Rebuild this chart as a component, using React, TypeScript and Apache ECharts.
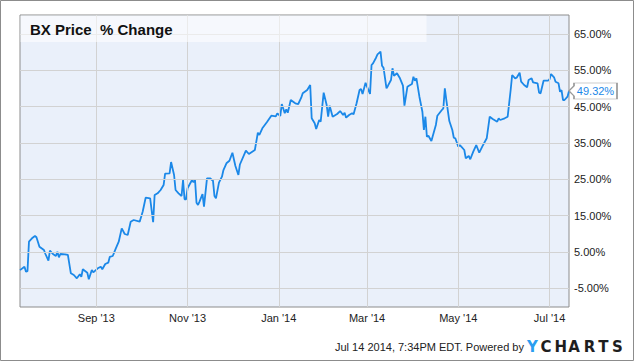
import React, { useEffect, useRef } from "react";
import * as echarts from "echarts";

const dates = [
  "2013-07-12","2013-07-15","2013-07-16","2013-07-17","2013-07-18","2013-07-20","2013-07-22","2013-07-23","2013-07-25","2013-07-28","2013-07-29","2013-07-31",
  "2013-08-01","2013-08-03","2013-08-05","2013-08-06","2013-08-07","2013-08-08","2013-08-11","2013-08-13","2013-08-15","2013-08-17","2013-08-19","2013-08-21","2013-08-22","2013-08-23","2013-08-26","2013-08-27","2013-08-29","2013-08-30",
  "2013-09-02","2013-09-04","2013-09-05","2013-09-07","2013-09-09","2013-09-10","2013-09-12","2013-09-14","2013-09-16","2013-09-18","2013-09-20","2013-09-22","2013-09-24","2013-09-26","2013-09-30",
  "2013-10-02","2013-10-04","2013-10-07","2013-10-09","2013-10-10","2013-10-12","2013-10-14","2013-10-16","2013-10-17","2013-10-20","2013-10-21","2013-10-23","2013-10-24","2013-10-26","2013-10-28","2013-10-29","2013-10-30","2013-10-31",
  "2013-11-01","2013-11-04","2013-11-05","2013-11-06","2013-11-07","2013-11-08","2013-11-09","2013-11-11","2013-11-12","2013-11-14","2013-11-16","2013-11-18","2013-11-19","2013-11-20","2013-11-22","2013-11-24","2013-11-25","2013-11-27","2013-11-29","2013-11-30",
  "2013-12-01","2013-12-03","2013-12-05","2013-12-06","2013-12-10","2013-12-12","2013-12-16","2013-12-18","2013-12-19","2013-12-21","2013-12-24","2013-12-27","2013-12-30","2013-12-31",
  "2014-01-02","2014-01-03","2014-01-05","2014-01-06","2014-01-07","2014-01-09","2014-01-12","2014-01-14","2014-01-16","2014-01-17","2014-01-20","2014-01-22","2014-01-23","2014-01-25","2014-01-26","2014-01-28","2014-01-29","2014-01-31",
  "2014-02-02","2014-02-03","2014-02-04","2014-02-06","2014-02-09","2014-02-11","2014-02-13","2014-02-14","2014-02-15","2014-02-17","2014-02-19","2014-02-20","2014-02-22","2014-02-24","2014-02-25","2014-02-26","2014-02-28",
  "2014-03-01","2014-03-03","2014-03-04","2014-03-05","2014-03-07","2014-03-08","2014-03-10","2014-03-11","2014-03-12","2014-03-14","2014-03-15","2014-03-17","2014-03-18","2014-03-19","2014-03-21","2014-03-23","2014-03-25","2014-03-26","2014-03-28","2014-03-29","2014-03-31",
  "2014-04-01","2014-04-02","2014-04-03","2014-04-05","2014-04-07","2014-04-08","2014-04-09","2014-04-10","2014-04-11","2014-04-13","2014-04-16","2014-04-17","2014-04-20","2014-04-21","2014-04-22","2014-04-23","2014-04-25","2014-04-27","2014-04-28","2014-04-29",
  "2014-05-01","2014-05-02","2014-05-03","2014-05-05","2014-05-06","2014-05-08","2014-05-09","2014-05-11","2014-05-13","2014-05-15","2014-05-17","2014-05-20","2014-05-22","2014-05-24","2014-05-27","2014-05-28","2014-05-29",
  "2014-06-01","2014-06-03","2014-06-05","2014-06-06","2014-06-08","2014-06-09","2014-06-11","2014-06-12","2014-06-14","2014-06-16","2014-06-17","2014-06-19","2014-06-20","2014-06-23","2014-06-24","2014-06-25","2014-06-27","2014-06-30",
  "2014-07-01","2014-07-02","2014-07-04","2014-07-05","2014-07-07","2014-07-08","2014-07-09","2014-07-10","2014-07-11","2014-07-13","2014-07-14",
];

const pctChange = [
  0.0, 0.95, -0.43, -0.3, 7.83, 8.76, 9.4, 9.04, 6.45, 5.54, 4.44, 2.6,
  5.35, 4.44, 3.89, 5.07, 3.53, 4.44, 4.36, 4.17, -0.87, -1.34, -2.25, -1.15, -1.81, 0.23, -0.71, -2.52, 0.04, -0.6,
  0.5, 0.95, 0.23, 1.69, 2.05, 3.62, 3.89, 5.9, 7.83, 11.5, 9.95, 9.67, 13.33, 13.8, 13.33,
  16.08, 19.94, 19.77, 13.2, 20.68, 21.15, 22.06, 23.43, 26.54, 26.65, 29.76, 26.19, 22.06, 21.15, 20.4, 24.81, 19.5, 19.5,
  22.53, 24.81, 24.18, 24.81, 18.56, 17.93, 18.84, 20.96, 17.46, 25.28, 25.28, 24.62, 20.4, 19.77, 24.07, 25.72, 27.56, 29.41, 30.12, 31.22,
  32.32, 28.66, 26.19, 29.08, 32.88, 31.97, 33.07, 37.83, 37.2, 39.04, 40.69, 42.51, 42.34, 43.17,
  42.43, 45.73, 43.17, 44.27, 43.33, 46.83, 45.92, 45.73, 47.46, 48.67, 49.58, 50.96, 41.79, 40.42, 38.85, 41.33, 40.86, 48.84,
  45.45, 42.23, 45.26, 42.23, 42.98, 43.8, 42.7, 43.33, 41.96, 42.7, 43.17, 42.9, 45.92, 49.58, 49.86, 48.48, 51.59,
  50.49, 48.48, 56.46, 56.93, 58.47, 59.41, 60.13, 56.27, 55.72, 50.05, 50.77, 52.34, 55.56, 53.52, 54.18, 52.8, 50.77, 45.26, 50.49, 50.77, 51.23,
  53.24, 52.14, 52.8, 47.74, 43.61, 38.57, 42.23, 36.73, 37.0, 35.54, 39.95, 42.51, 44.08, 44.55, 50.05, 46.83, 41.05, 38.57, 36.45, 36.29,
  33.98, 34.44, 33.98, 33.07, 30.78, 31.42, 30.51, 32.6, 34.44, 32.32, 33.98, 36.29, 42.23, 41.6, 40.86, 41.79, 41.33,
  41.79, 42.23, 49.58, 53.71, 52.8, 52.97, 54.34, 51.87, 50.96, 50.33, 52.34, 52.8, 51.7, 51.43, 48.84, 48.67, 52.14, 52.14,
  52.53, 53.99, 53.08, 51.87, 51.43, 49.11, 49.58, 46.83, 46.83, 47.74, 49.32,
];

const yTickValues = [-5, 5, 15, 25, 35, 45, 55, 65];
const xTickDates = ["2013-09-01", "2013-11-01", "2014-01-01", "2014-03-01", "2014-05-01", "2014-07-01"];
const xTickLabels = ["Sep '13", "Nov '13", "Jan '14", "Mar '14", "May '14", "Jul '14"];
const xRange = ["2013-07-12", "2014-07-14"];
const yRange = [-10.15, 70.23];

const titleText = "BX Price  % Change";
const footerText = "Jul 14 2014, 7:34PM EDT. Powered by";
const logoLetters = ["Y", "C", "H", "A", "R", "T", "S"];
const logoCenters = [532.5, 546, 560.7, 574, 589.5, 603.3, 617.5];

const toTime = (s: string) => {
  const [y, m, d] = s.split("-").map(Number);
  return new Date(y, m - 1, d).getTime();
};

const FONT = "'Liberation Sans', Arial, sans-serif";
const LOGO_FONT = "'DejaVu Sans', 'Liberation Sans', sans-serif";

export default function App() {
  const ref = useRef<HTMLDivElement>(null);

  useEffect(() => {
    if (!ref.current) return;
    const chart = echarts.init(ref.current, undefined, { renderer: "svg" });
    const data = dates.map((d, i) => [toTime(d), pctChange[i]]);
    const xTickTimes = xTickDates.map(toTime);
    const last = data[data.length - 1];

    const gridLineData = [
      ...yTickValues.map((v) => ({ yAxis: v })),
      ...xTickTimes.map((t) => ({ xAxis: t })),
    ];

    chart.setOption({
      animation: false,
      backgroundColor: "#ffffff",
      textStyle: { fontFamily: FONT },
      grid: {
        left: 20,
        top: 15,
        right: 66,
        bottom: 55,
        show: true,
        backgroundColor: "#eaf0fa",
        borderColor: "#8c8c8c",
        borderWidth: 1,
      },
      xAxis: {
        type: "value",
        min: toTime(xRange[0]),
        max: toTime(xRange[1]),
        axisLine: { show: false },
        axisTick: { show: false },
        splitLine: { show: false },
        axisLabel: {
          customValues: xTickTimes,
          formatter: (v: number) => {
            const idx = xTickTimes.indexOf(v);
            return idx >= 0 ? xTickLabels[idx] : "";
          },
          color: "#222",
          fontSize: 11,
          fontFamily: FONT,
          margin: 5,
          hideOverlap: false,
        },
      },
      yAxis: {
        type: "value",
        position: "right",
        min: yRange[0],
        max: yRange[1],
        axisLine: { show: false },
        axisTick: { show: false },
        splitLine: { show: false },
        axisLabel: {
          customValues: yTickValues,
          formatter: (v: number) => `${v.toFixed(2)}%`,
          color: "#222",
          fontSize: 11,
          fontFamily: FONT,
          margin: 5,
        },
      },
      series: [
        {
          type: "line",
          name: "grid",
          data,
          z: 1,
          silent: true,
          showSymbol: false,
          lineStyle: { opacity: 0 },
          markLine: {
            silent: true,
            symbol: ["none", "none"],
            label: { show: false },
            lineStyle: { color: "#d2d2d2", width: 1, type: "solid" },
            emphasis: { disabled: true },
            data: gridLineData,
          },
        },
        {
          type: "line",
          name: "BX Price % Change",
          data,
          z: 3,
          clip: false,
          showSymbol: false,
          symbol: "none",
          lineStyle: { color: "#1b88e8", width: 1.8 },
          markPoint: {
            silent: true,
            symbol: "path://M0,8 L5,3 L5,0 L48,0 L48,16 L5,16 L5,13 Z",
            symbolSize: [48, 16],
            symbolOffset: [24, 0],
            symbolKeepAspect: false,
            itemStyle: { color: "#ffffff", borderColor: "#9a9a9a", borderWidth: 1 },
            label: {
              show: true,
              position: "inside",
              offset: [2.5, 0.5],
              formatter: (p: any) => `${Number(p.value).toFixed(2)}%`,
              color: "#1b88e8",
              fontSize: 11,
              fontFamily: FONT,
            },
            data: [{ coord: last, value: last[1] }],
          },
        },
      ],
      graphic: [
        {
          type: "rect",
          z: 10,
          silent: true,
          shape: { x: 0.5, y: 0.5, width: 633, height: 360 },
          style: { fill: "none", stroke: "#8c8c8c", lineWidth: 1 },
        },
        {
          type: "rect",
          z: 10,
          silent: true,
          shape: { x: 20.5, y: 15.5, width: 406, height: 26.5 },
          style: { fill: "rgba(255,255,255,0.55)" },
        },
        {
          type: "text",
          z: 11,
          x: 30,
          y: 29,
          style: {
            text: titleText,
            font: `bold 15px ${FONT}`,
            fill: "#111",
            verticalAlign: "middle",
          },
        },
        {
          type: "text",
          z: 11,
          x: 335,
          y: 347,
          style: {
            text: footerText,
            font: `11px ${FONT}`,
            fill: "#222",
            verticalAlign: "middle",
          },
        },
        ...logoLetters.map((ch, i) => ({
          type: "text",
          z: 11,
          x: logoCenters[i],
          y: 346.5,
          style: {
            text: ch,
            font: `bold 15px ${LOGO_FONT}`,
            fill: i === 0 ? "#2a9ef0" : "#1e1e1e",
            align: "center",
            verticalAlign: "middle",
          },
        })),
      ],
    });

    return () => chart.dispose();
  }, []);

  return (
    <div
      ref={ref}
      style={{ position: "fixed", left: 0, top: 0, width: 635, height: 362 }}
    />
  );
}
